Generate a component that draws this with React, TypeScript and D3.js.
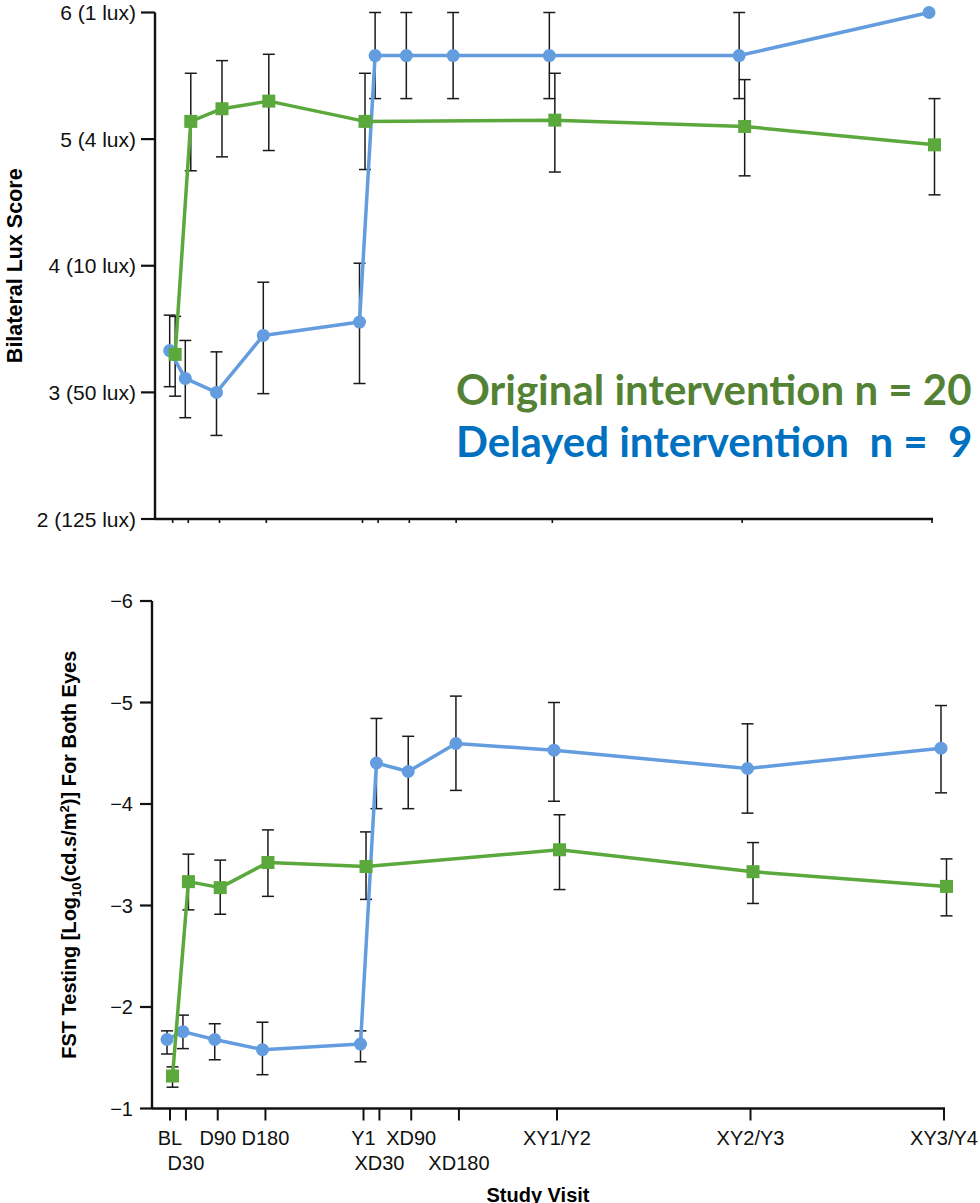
import React from "react";
import * as d3 from "d3";

// ---- Data ----
const visits = ["BL", "D30", "D90", "D180", "Y1", "XD30", "XD90", "XD180", "XY1/Y2", "XY2/Y3", "XY3/Y4"];
const visitDays = [0, 30, 90, 180, 365, 395, 455, 545, 730, 1095, 1460];
const labelRow = [0, 1, 0, 0, 0, 1, 0, 1, 0, 0, 0];

// Top panel: Bilateral Lux Score
const luxTicks = [2, 3, 4, 5, 6];
const luxTickLabels = ["2 (125 lux)", "3 (50 lux)", "4 (10 lux)", "5 (4 lux)", "6 (1 lux)"];
const luxDelayed = [3.33, 3.11, 3.0, 3.45, 3.555, 5.66, 5.66, 5.66, 5.66, 5.66, 6.0];
const luxDelayedLo = [3.045, 2.8, 2.66, 2.99, 3.07, 5.32, 5.32, 5.32, 5.32, 5.32, null];
const luxDelayedHi = [3.61, 3.41, 3.32, 3.87, 4.02, 6.0, 6.0, 6.0, 6.0, 6.0, null];
const luxOriginal = [3.3, 5.14, 5.24, 5.3, 5.14, null, null, null, 5.15, 5.1, 4.955];
const luxOriginalLo = [2.97, 4.75, 4.86, 4.91, 4.76, null, null, null, 4.74, 4.71, 4.56];
const luxOriginalHi = [3.6, 5.52, 5.62, 5.67, 5.52, null, null, null, 5.52, 5.47, 5.32];

// Bottom panel: FST testing
const fstTicks = [-1, -2, -3, -4, -5, -6];
const fstDelayed = [-1.68, -1.757, -1.68, -1.58, -1.635, -4.404, -4.32, -4.596, -4.53, -4.35, -4.55];
const fstDelayedA = [-1.765, -1.92, -1.835, -1.85, -1.765, -4.843, -4.667, -5.063, -5.0, -4.79, -4.97];
const fstDelayedB = [-1.537, -1.59, -1.48, -1.333, -1.46, -3.954, -3.954, -4.134, -4.027, -3.91, -4.11];
const fstOriginal = [-1.32, -3.235, -3.176, -3.424, -3.384, null, null, null, -3.549, -3.333, -3.188];
const fstOriginalA = [-1.41, -3.506, -3.447, -3.745, -3.725, null, null, null, -3.894, -3.62, -3.459];
const fstOriginalB = [-1.21, -2.957, -2.914, -3.09, -3.06, null, null, null, -3.157, -3.02, -2.898];

const legendItems = ["Original intervention n = 20", "Delayed intervention  n =  9"];

// ---- Styles ----
const BLUE = "#639ddf";
const GREEN = "#5ba83d";
const LEG_GREEN = "#548235";
const LEG_BLUE = "#0070c0";
const AX = "#111";
const FONT = "'Liberation Sans', Arial, Helvetica, sans-serif";

type Num = number | null;

function Series(props: {
  x: d3.ScaleLinear<number, number>;
  y: d3.ScaleLinear<number, number>;
  vals: Num[];
  color: string;
  shape: "circle" | "square";
  dx: number;
}) {
  const { x, y, vals, color, shape, dx } = props;
  const pts = visitDays
    .map((d, i) => ({ d, v: vals[i] }))
    .filter((p) => p.v != null) as { d: number; v: number }[];
  const line = d3
    .line<{ d: number; v: number }>()
    .x((p) => x(p.d) + dx)
    .y((p) => y(p.v));
  return (
    <g>
      <path d={line(pts) || ""} fill="none" stroke={color} strokeWidth={3.5} strokeLinejoin="round" />
      {pts.map((p, i) =>
        shape === "circle" ? (
          <circle key={i} cx={x(p.d) + dx} cy={y(p.v)} r={6.5} fill={color} />
        ) : (
          <rect key={i} x={x(p.d) + dx - 6.5} y={y(p.v) - 6.5} width={13} height={13} fill={color} />
        )
      )}
    </g>
  );
}

function ErrorBars(props: {
  x: d3.ScaleLinear<number, number>;
  y: d3.ScaleLinear<number, number>;
  a: Num[];
  b: Num[];
  dx: number;
}) {
  const { x, y, a, b, dx } = props;
  return (
    <g stroke="#1a1a1a" strokeWidth={1.5} fill="none">
      {visitDays.map((d, i) => {
        const va = a[i];
        const vb = b[i];
        if (va == null || vb == null) return null;
        const cx = x(d) + dx;
        const y1 = y(va);
        const y2 = y(vb);
        return (
          <g key={i}>
            <line x1={cx} x2={cx} y1={y1} y2={y2} />
            <line x1={cx - 6} x2={cx + 6} y1={y1} y2={y1} />
            <line x1={cx - 6} x2={cx + 6} y1={y2} y2={y2} />
          </g>
        );
      })}
    </g>
  );
}

export default function App() {
  // top panel scales
  const xT = d3.scaleLinear().domain([-34, 1460]).range([155, 932]);
  const yT = d3.scaleLinear().domain([2, 6]).range([519, 12.5]);
  // bottom panel scales
  const xB = d3.scaleLinear().domain([-34, 1460]).range([152, 944]);
  const yB = d3.scaleLinear().domain([-1, -6]).range([1108.5, 601]);

  const dxBlue = -3;
  const dxGreen = 2.5;

  return (
    <svg
      width={980}
      height={1203}
      viewBox="0 0 980 1203"
      style={{ position: "absolute", left: 0, top: 0, overflow: "hidden", background: "#fff" }}
      fontFamily={FONT}
    >
      <rect x={0} y={0} width={980} height={1203} fill="#fff" />

      {/* ===== TOP PANEL ===== */}
      <g>
        <line x1={xT(-34)} x2={xT(-34)} y1={yT(6)} y2={yT(2)} stroke={AX} strokeWidth={2.4} />
        <line x1={xT(-34)} x2={xT(1460) + 1} y1={yT(2)} y2={yT(2)} stroke={AX} strokeWidth={2.4} />
        {luxTicks.map((t, i) => (
          <g key={t}>
            <line x1={xT(-34) - 14} x2={xT(-34)} y1={yT(t)} y2={yT(t)} stroke={AX} strokeWidth={2.2} />
            <text x={xT(-34) - 19} y={yT(t)} dy="0.36em" textAnchor="end" fontSize={21} fill="#111">
              {luxTickLabels[i]}
            </text>
          </g>
        ))}
        {visitDays.map((d, i) => (
          <line key={i} x1={xT(d)} x2={xT(d)} y1={yT(2)} y2={yT(2) + 4} stroke={AX} strokeWidth={1.6} />
        ))}
        <text
          transform={`translate(14,${yT(4)}) rotate(-90)`}
          textAnchor="middle"
          dy="0.36em"
          fontSize={21.5}
          fontWeight="bold"
          fill="#000"
        >
          Bilateral Lux Score
        </text>

        <ErrorBars x={xT} y={yT} a={luxDelayedLo} b={luxDelayedHi} dx={dxBlue} />
        <ErrorBars x={xT} y={yT} a={luxOriginalLo} b={luxOriginalHi} dx={dxGreen} />
        <Series x={xT} y={yT} vals={luxDelayed} color={BLUE} shape="circle" dx={dxBlue} />
        <Series x={xT} y={yT} vals={luxOriginal} color={GREEN} shape="square" dx={dxGreen} />

        {/* legend */}
        <text x={456} y={405} fontFamily="Lato, 'Open Sans', sans-serif" fontWeight="bold" fontSize={42} fill={LEG_GREEN}>
          {legendItems[0]}
        </text>
        <text
          x={456}
          y={457}
          fontFamily="Lato, 'Open Sans', sans-serif"
          fontWeight="bold"
          fontSize={42}
          fill={LEG_BLUE}
          style={{ whiteSpace: "pre" }}
        >
          {legendItems[1]}
        </text>
      </g>

      {/* ===== BOTTOM PANEL ===== */}
      <g>
        <line x1={xB(-34)} x2={xB(-34)} y1={yB(-6)} y2={yB(-1)} stroke={AX} strokeWidth={2.4} />
        <line x1={xB(-34)} x2={xB(1460) + 1} y1={yB(-1)} y2={yB(-1)} stroke={AX} strokeWidth={2.4} />
        {fstTicks.map((t) => (
          <g key={t}>
            <line x1={xB(-34) - 12} x2={xB(-34)} y1={yB(t)} y2={yB(t)} stroke={AX} strokeWidth={2.2} />
            <text x={xB(-34) - 19} y={yB(t)} dy="0.36em" textAnchor="end" fontSize={20} fill="#111">
              {"\u2212" + Math.abs(t)}
            </text>
          </g>
        ))}
        {visitDays.map((d, i) => (
          <g key={i}>
            <line x1={xB(d)} x2={xB(d)} y1={yB(-1)} y2={yB(-1) + 12} stroke={AX} strokeWidth={2} />
            <text x={xB(d)} y={labelRow[i] === 0 ? 1145 : 1170} textAnchor="middle" fontSize={20} fill="#111">
              {visits[i]}
            </text>
          </g>
        ))}
        <text x={538} y={1202} textAnchor="middle" fontSize={20} fontWeight="bold" fill="#000">
          Study Visit
        </text>
        <text
          transform={`translate(69,${(yB(-6) + yB(-1)) / 2}) rotate(-90)`}
          textAnchor="middle"
          dy="0.36em"
          fontSize={20}
          fontWeight="bold"
          fill="#000"
        >
          FST Testing [Log
          <tspan fontSize={13} dy={5}>10</tspan>
          <tspan dy={-5}>(cd.s/m</tspan>
          <tspan fontSize={13} dy={-7}>2</tspan>
          <tspan dy={7}>)] For Both Eyes</tspan>
        </text>

        <ErrorBars x={xB} y={yB} a={fstDelayedA} b={fstDelayedB} dx={dxBlue} />
        <ErrorBars x={xB} y={yB} a={fstOriginalA} b={fstOriginalB} dx={dxGreen} />
        <Series x={xB} y={yB} vals={fstDelayed} color={BLUE} shape="circle" dx={dxBlue} />
        <Series x={xB} y={yB} vals={fstOriginal} color={GREEN} shape="square" dx={dxGreen} />
      </g>
    </svg>
  );
}
